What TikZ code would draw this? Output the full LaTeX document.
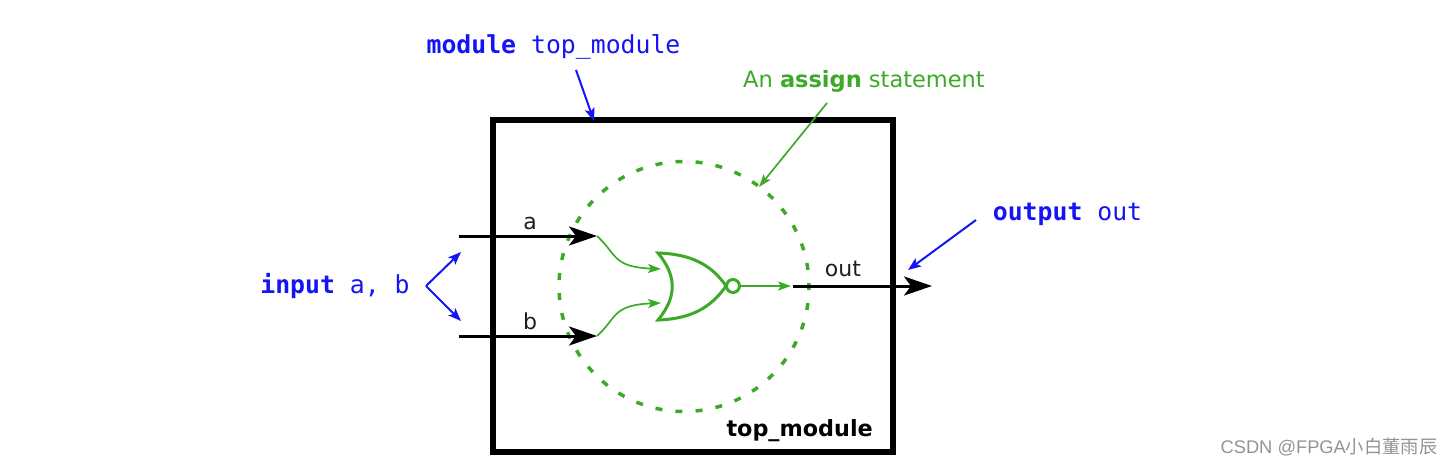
\documentclass[tikz,border=0pt]{standalone}
\usepackage{fontspec}
\setmainfont{DejaVu Sans}
\setmonofont{DejaVu Sans Mono}
\newfontfamily\cjkfont{Noto Sans CJK SC}
\newfontfamily\markfont{Liberation Sans}
\usetikzlibrary{arrows.meta, positioning, calc}
\definecolor{kwblue}{RGB}{20,20,245}
\definecolor{gategreen}{RGB}{60,170,40}
\definecolor{wiregray}{RGB}{30,30,30}
\tikzset{
    label/.style={inner sep=0pt, anchor=base},
    monolabel/.style={label, font=\fontsize{24.8}{28}\selectfont\ttfamily, text=kwblue},
    wirelabel/.style={label, font=\fontsize{22}{26}\selectfont, text=wiregray},
    signal/.style={line width=3pt, -{Stealth[length=28pt, width=19pt, inset=7pt]}},
    callout/.style={line width=2pt, color=kwblue, -{Stealth[length=13pt, width=10pt, inset=3pt]}},
    greenwire/.style={line width=1.7pt, color=gategreen, -{Stealth[length=13pt, width=9pt, inset=3pt]}}
}
\begin{document}
\begin{tikzpicture}[x=1pt, y=-1pt]
    \useasboundingbox (0,0) rectangle (1453,466);

    % Module box
    \draw[line width=6pt, miter limit=10] (493,120) rectangle (893,452);
    \node[label, anchor=base east, font=\fontsize{22.3}{26}\selectfont\bfseries] (modname) at (873,436) {top\_module};

    % Assign circle
    \node[circle, draw=gategreen, line width=3.5pt, dash pattern=on 7pt off 13.14pt, dash phase=3.5pt, minimum size=250pt, inner sep=0pt] (assign) at (684,286.5) {};

    % Ports
    \coordinate (ain) at (459,236);
    \coordinate (aout) at (597,236);
    \coordinate (bin) at (459,336);
    \coordinate (bout) at (597,336);
    \coordinate (outin) at (793,286);
    \coordinate (outout) at (932,286);
    \draw[signal] (ain) -- (aout);
    \draw[signal] (bin) -- (bout);
    \draw[signal] (outin) -- (outout);
    \node[wirelabel] (alabel) at (530,229) {a};
    \node[wirelabel] (blabel) at (530,329) {b};
    \node[wirelabel] (outlabel) at (843,276) {out};

    % NOR gate
    \draw[line width=3pt, color=gategreen, line join=miter]
        (658,253) .. controls (690,254) and (711,264) .. (726,286)
        .. controls (711,308) and (690,319) .. (658,320)
        .. controls (677,297) and (677,276) .. (658,253) -- cycle;
    \node[circle, draw=gategreen, line width=3pt, minimum size=13pt, inner sep=0pt] (bubble) at (733,286) {};
    \coordinate (nora) at (661,269);
    \coordinate (norb) at (661,303);
    \coordinate (wireout) at (791,286);

    % Wires inside the assign
    \draw[greenwire] (aout) .. controls (617,254) and (612,267) .. (nora);
    \draw[greenwire] (bout) .. controls (617,318) and (612,305) .. (norb);
    \draw[greenwire] (bubble.east) -- (wireout);

    % Callouts
    \node[monolabel] (modtext) at (553.5,53) {\textbf{module} top\_module};
    \coordinate (modfrom) at (576,70);
    \coordinate (modto) at (594,121);
    \draw[callout] (modfrom) -- (modto);

    \node[label, font=\fontsize{22.5}{26}\selectfont, text=gategreen] (assigntext) at (864,87) {An \textbf{assign} statement};
    \coordinate (assignfrom) at (827,103);
    \coordinate (assignto) at (759,187);
    \draw[greenwire] (assignfrom) -- (assignto);

    \node[monolabel] (inputtext) at (335,293) {\textbf{input} a, b};
    \coordinate (inputfrom) at (426,286);
    \coordinate (inputa) at (461,252);
    \coordinate (inputb) at (461,321);
    \draw[callout] (inputfrom) -- (inputa);
    \draw[callout] (inputfrom) -- (inputb);

    \node[monolabel] (outputtext) at (1067.5,220) {\textbf{output} out};
    \coordinate (outputfrom) at (976,220);
    \coordinate (outputto) at (908,270);
    \draw[callout] (outputfrom) -- (outputto);

    % Watermark
    \node[label, font=\fontsize{18.3}{20}\selectfont\markfont, text=gray!85] (watermark) at (1329,453) {CSDN @FPGA{\cjkfont 小白董雨辰}};
\end{tikzpicture}
\end{document}
